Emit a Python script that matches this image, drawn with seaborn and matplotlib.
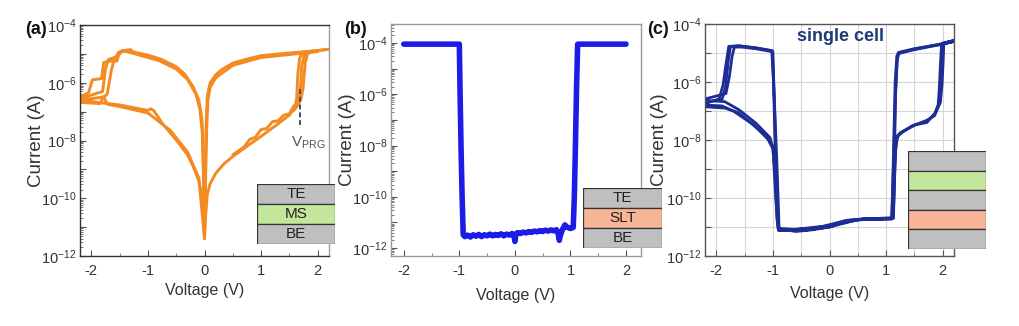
import numpy as np
import matplotlib
matplotlib.use('Agg')
import matplotlib.pyplot as plt
import seaborn as sns
from matplotlib.ticker import FixedLocator, MultipleLocator, FuncFormatter, LogLocator, NullLocator, NullFormatter

# ---------------- data ----------------
# panel (a): MS memory device, orange
a_hrs_pos_V = [0.0, 0.02, 0.05, 0.1, 0.2, 0.35, 0.5, 0.75, 1.0, 1.25, 1.5, 1.6]
a_hrs_pos_I = [4e-12, 2.5e-11, 1.4e-10, 3.2e-10, 7.4e-10, 1.6e-9, 2.8e-9, 6.3e-9, 1.4e-8, 3.2e-8, 7.6e-8, 1.4e-7]
a_hrs_pos2_V = [0.5, 0.7, 0.8, 0.9, 1.0, 1.1, 1.2, 1.3, 1.4, 1.5, 1.58]
a_hrs_pos2_I = [3.2e-9, 6e-9, 1.1e-8, 1.3e-8, 2.4e-8, 2.6e-8, 4.5e-8, 4.8e-8, 7.5e-8, 8.5e-8, 1.6e-7]
a_set1_V = [1.6, 1.63, 1.65, 1.68, 1.72, 1.85, 2.0, 2.2]
a_set1_I = [1.4e-7, 3e-7, 2e-6, 7e-6, 1.05e-5, 1.2e-5, 1.3e-5, 1.45e-5]
a_set2_V = [1.55, 1.62, 1.66, 1.7, 1.72, 1.76, 1.85]
a_set2_I = [1e-7, 1.5e-7, 2.2e-7, 8e-7, 4e-6, 9e-6, 1.15e-5]
a_set3_V = [1.58, 1.66, 1.7, 1.74, 1.78, 1.82, 1.9]
a_set3_I = [1.1e-7, 1.8e-7, 2.5e-7, 6e-7, 5e-6, 1e-5, 1.2e-5]
a_lrs_pos_V = [2.2, 2.0, 1.5, 1.0, 0.75, 0.5, 0.3, 0.2, 0.1, 0.05, 0.03, 0.015, 0.0]
a_lrs_pos_I = [1.45e-5, 1.3e-5, 1.07e-5, 8.7e-6, 6.6e-6, 4.8e-6, 2.8e-6, 1.9e-6, 1e-6, 3.5e-7, 5e-8, 1e-9, 5e-12]
a_lrs_pos2_V = [2.0, 1.5, 1.0, 0.5, 0.2, 0.1, 0.06, 0.04, 0.02, 0.0]
a_lrs_pos2_I = [1.2e-5, 9.5e-6, 7.5e-6, 4e-6, 1.5e-6, 7e-7, 2.5e-7, 3e-8, 5e-10, 5e-12]
a_lrs_neg_V = [0.0, -0.015, -0.03, -0.05, -0.1, -0.2, -0.35, -0.5, -0.75, -1.0, -1.2, -1.36]
a_lrs_neg_I = [5e-12, 3e-10, 1.6e-8, 6.3e-8, 2.5e-7, 7.2e-7, 2e-6, 3.6e-6, 6.3e-6, 9.1e-6, 1.1e-5, 1.35e-5]
a_lrs_neg2_V = [0.0, -0.02, -0.04, -0.08, -0.15, -0.3, -0.5, -0.8, -1.1, -1.3, -1.45]
a_lrs_neg2_I = [5e-12, 1e-9, 2e-8, 1.2e-7, 4e-7, 1.3e-6, 3e-6, 5.8e-6, 8.5e-6, 1.1e-5, 1.3e-5]
a_reset1_V = [-1.36, -1.5, -1.55, -1.7, -1.78, -1.82, -1.98, -2.05, -2.2]
a_reset1_I = [1.35e-5, 1.12e-5, 5.6e-6, 5.6e-6, 5e-6, 1.4e-6, 1.26e-6, 4.5e-7, 3.2e-7]
a_reset2_V = [-1.45, -1.52, -1.6, -1.65, -1.72, -1.78, -2.2]
a_reset2_I = [1.3e-5, 1.12e-5, 6e-6, 2.5e-6, 4e-7, 3.2e-7, 2.5e-7]
a_reset3_V = [-1.3, -1.45, -1.55, -1.7, -1.75, -1.8, -2.2]
a_reset3_I = [1.4e-5, 1.26e-5, 8e-6, 6.3e-6, 3e-6, 5e-7, 2.8e-7]
a_hrs_neg_V = [-2.2, -1.5, -1.0, -0.95, -0.9, -0.85, -0.75, -0.5, -0.3, -0.2, -0.1, -0.05, -0.02, 0.0]
a_hrs_neg_I = [2.5e-7, 1.7e-7, 1.1e-7, 1.25e-7, 1.1e-7, 8e-8, 4e-8, 1.05e-8, 3.2e-9, 1.26e-9, 4e-10, 1.26e-10, 3.2e-11, 4e-12]
a_hrs_neg2_V = [-2.2, -1.85, -1.78, -1.72, -1.5, -1.0, -0.6, -0.3, -0.1, 0.0]
a_hrs_neg2_I = [2.1e-7, 1.9e-7, 3.3e-7, 1.8e-7, 1.5e-7, 9e-8, 2.2e-8, 4e-9, 5e-10, 4e-12]
a_vprg_V = [1.68, 1.68]
a_vprg_I = [6e-7, 2.7e-8]

# panel (b): SLT selector, blue
b_on_neg_V = [-2.0, -1.0]
b_on_neg_I = [9e-5, 9e-5]
b_drop_V = [-1.0, -0.99, -0.97, -0.95, -0.93]
b_drop_I = [9e-5, 3e-6, 1e-8, 1e-10, 3.3e-12]
b_floor_V = [-0.93, -0.9, -0.85, -0.8, -0.75, -0.7, -0.65, -0.6, -0.55, -0.5,
             -0.45, -0.4, -0.35, -0.3, -0.25, -0.2, -0.15, -0.1, -0.05, -0.01,
             0.0, 0.02, 0.05, 0.1, 0.15, 0.2, 0.25, 0.3, 0.35, 0.4,
             0.45, 0.5, 0.55, 0.6, 0.65, 0.7, 0.75, 0.78, 0.8, 0.82,
             0.86, 0.9, 0.94, 1.0, 1.05]
b_floor_I = [3.3e-12, 2.8e-12, 3.2e-12, 2.7e-12, 3.3e-12, 2.9e-12, 3.4e-12, 2.8e-12, 3.3e-12, 3.0e-12,
             3.5e-12, 3.0e-12, 3.4e-12, 3.1e-12, 3.6e-12, 3.0e-12, 3.5e-12, 3.2e-12, 3.7e-12, 2.6e-12,
             1.8e-12, 3.6e-12, 4.0e-12, 3.7e-12, 4.2e-12, 3.9e-12, 4.4e-12, 4.1e-12, 4.6e-12, 4.3e-12,
             4.8e-12, 4.4e-12, 5.0e-12, 4.6e-12, 5.1e-12, 4.7e-12, 5.2e-12, 3.5e-12, 2.0e-12, 3.2e-12,
             5.5e-12, 8.0e-12, 6.5e-12, 5.8e-12, 6.4e-12]
b_rise_V = [1.05, 1.07, 1.09, 1.11, 1.13]
b_rise_I = [6.4e-12, 1e-10, 1e-8, 2e-6, 9e-5]
b_on_pos_V = [1.13, 2.0]
b_on_pos_I = [9e-5, 9e-5]

# panel (c): single cell (selector + memory), navy, three cycles
c_cyc1_V = [-2.2, -1.85, -1.62, -1.33, -1.09, -1.0, -0.95, -0.9, -0.88, -0.6, -0.3, 0.0, 0.3, 0.6, 0.9,
            1.1, 1.13, 1.16, 1.19, 1.22, 1.5, 1.8, 2.0, 2.2, 2.0, 1.99, 1.97, 1.95, 1.9, 1.86, 1.75, 1.5, 1.25,
            1.18, 1.15, 1.12, 0.6, 0.0, -0.6, -0.9, -0.93, -0.96, -0.99, -1.02, -1.3, -1.6, -1.75, -1.79,
            -1.84, -1.9, -2.2]
c_cyc1_I = [1.4e-7, 1.26e-7, 8.9e-8, 3.2e-8, 1.07e-8, 5e-9, 3.2e-10, 8.9e-12, 7.9e-12, 8.3e-12, 8.9e-12, 1.12e-11,
            1.66e-11, 1.9e-11, 1.9e-11, 1.9e-11, 3.2e-9, 1e-6, 7.9e-6, 1.05e-5, 1.41e-5, 1.78e-5, 2.1e-5, 2.7e-5,
            2.2e-5, 5e-6, 8e-7, 2e-7, 1.3e-7, 8e-8, 5e-8, 3.2e-8, 1.78e-8, 1.26e-8, 1e-9, 2e-11, 1.9e-11,
            1.12e-11, 8.3e-12, 8.9e-12, 1.6e-10, 6.3e-9, 1e-6, 1.2e-5, 1.5e-5, 1.78e-5, 1.66e-5, 5e-6,
            6.3e-7, 2.5e-7, 2e-7]
c_cyc2_V = [-2.2, -1.85, -1.6, -1.3, -1.05, -0.97, -0.93, -0.9, -0.6, -0.3, 0.0, 0.3, 0.6, 0.9, 1.12,
            1.15, 1.17, 1.2, 1.23, 1.5, 1.8, 2.0, 2.2, 1.98, 1.96, 1.94, 1.92, 1.86, 1.7, 1.45, 1.22, 1.17,
            1.14, 1.12, 0.5, 0.0, -0.5, -0.9, -0.94, -0.97, -1.0, -1.3, -1.55, -1.68, -1.72, -1.77, -1.83, -2.2]
c_cyc2_I = [2.3e-7, 2.1e-7, 1.1e-7, 3.8e-8, 1.2e-8, 3e-9, 2e-11, 7.5e-12, 7.8e-12, 8.5e-12, 1.2e-11, 1.7e-11,
            1.9e-11, 2e-11, 2.1e-11, 5e-9, 5e-7, 7e-6, 1e-5, 1.3e-5, 1.7e-5, 2e-5, 2.5e-5, 2e-5, 4e-6, 6e-7,
            1.6e-7, 7e-8, 4.5e-8, 3e-8, 1.5e-8, 8e-9, 1e-10, 2e-11, 1.8e-11, 1.1e-11, 8e-12, 8e-12, 1e-9, 1e-7,
            1.1e-5, 1.4e-5, 1.6e-5, 1.6e-5, 8e-6, 1.5e-6, 4e-7, 2.6e-7]
c_cyc3_V = [-2.2, -1.9, -1.7, -1.4, -1.1, -1.0, -0.95, -0.91, -0.6, -0.3, 0.0, 0.3, 0.6, 0.9, 1.1,
            1.13, 1.16, 1.19, 1.22, 1.5, 1.8, 2.0, 2.2, 2.02, 2.01, 1.99, 1.96, 1.88, 1.72, 1.5, 1.3, 1.2,
            1.16, 1.13, 0.5, 0.0, -0.5, -0.89, -0.92, -0.96, -1.01, -1.3, -1.6, -1.78, -1.83, -1.88, -1.95, -2.2]
c_cyc3_I = [1.6e-7, 1.5e-7, 1e-7, 4e-8, 1.3e-8, 6e-9, 1e-10, 9e-12, 7e-12, 8e-12, 1e-11, 1.6e-11,
            1.8e-11, 1.8e-11, 1.9e-11, 1e-9, 2e-7, 5e-6, 9.5e-6, 1.35e-5, 1.75e-5, 2.05e-5, 2.6e-5, 2.2e-5,
            6e-6, 9e-7, 2e-7, 9e-8, 4e-8, 3.3e-8, 2e-8, 1.3e-8, 3e-9, 2e-11, 1.8e-11, 1e-11, 7.5e-12,
            8e-12, 5e-10, 5e-8, 1.2e-5, 1.5e-5, 1.75e-5, 1.7e-5, 4e-6, 8e-7, 2.6e-7, 1.8e-7]

# stack diagrams (top -> bottom)
a_layers = ['TE', 'MS', 'BE']
a_layer_colors = ['#bfbfbf', '#c4e69c', '#bfbfbf']
b_layers = ['TE', 'SLT', 'BE']
b_layer_colors = ['#bfbfbf', '#f7b497', '#bfbfbf']
c_layers = ['', '', '', '', '']
c_layer_colors = ['#bfbfbf', '#c4e69c', '#bfbfbf', '#f7b497', '#bfbfbf']

x_ticks = [-2, -1, 0, 1, 2]
decades = [-12, -11, -10, -9, -8, -7, -6, -5, -4]

# ---------------- style ----------------
sns.set_theme(style='ticks')
FONT = ['Liberation Sans', 'DejaVu Sans']
plt.rcParams['font.family'] = FONT
plt.rcParams['mathtext.fontset'] = 'custom'
plt.rcParams['mathtext.rm'] = 'Liberation Sans'
plt.rcParams['mathtext.it'] = 'Liberation Sans:italic'
plt.rcParams['mathtext.bf'] = 'Liberation Sans:bold'
plt.rcParams['axes.unicode_minus'] = False

TICK_FS = 10.5
XLAB_FS = 11.5
YLAB_FS = 13.5

W, H = 1019, 326
fig = plt.figure(figsize=(W / 100, H / 100), dpi=100)


def px_rect(l, t, r, b):
    return [l / W, 1 - b / H, (r - l) / W, (b - t) / H]


def fmt(v, pos):
    e = int(round(np.log10(v)))
    return rf'$10^{{{e}}}$' if e % 2 == 0 else ''


def style(ax, xlim, ylim, spine_cols, minor_y=True, grid=False):
    ax.set_yscale('log')
    ax.set_xlim(*xlim)
    ax.set_ylim(*ylim)
    ax.xaxis.set_major_locator(FixedLocator(x_ticks))
    ax.xaxis.set_minor_locator(MultipleLocator(0.5))
    ax.yaxis.set_major_locator(FixedLocator([10.0 ** e for e in decades]))
    ax.yaxis.set_major_formatter(FuncFormatter(fmt))
    if minor_y:
        ax.yaxis.set_minor_locator(LogLocator(base=10, subs=np.arange(2, 10), numticks=30))
    else:
        ax.yaxis.set_minor_locator(NullLocator())
    ax.yaxis.set_minor_formatter(NullFormatter())
    ax.tick_params(axis='both', which='major', direction='in', length=4, width=0.8,
                   color='#555555', labelsize=TICK_FS, labelcolor='#333333')
    ax.tick_params(axis='both', which='minor', direction='in', length=2, width=0.6, color='#666666')
    ax.tick_params(axis='x', which='major', pad=6)
    ax.tick_params(axis='y', which='major', pad=2.5)
    for side, c in zip(['left', 'bottom', 'top', 'right'], spine_cols):
        ax.spines[side].set_visible(True)
        ax.spines[side].set_color(c)
        ax.spines[side].set_linewidth(1.0)
    if grid:
        ax.grid(True, which='major', axis='y', color='#d6d6d6', lw=0.8)
        ax.grid(True, which='both', axis='x', color='#d6d6d6', lw=0.8)
        ax.set_axisbelow(True)
    ax.set_xlabel('Voltage (V)', fontsize=XLAB_FS, color='#333333')
    ax.set_ylabel('Current (A)', fontsize=YLAB_FS, color='#333333')


def draw(ax, V, I, color, lw):
    sns.lineplot(x=np.asarray(V, float), y=np.asarray(I, float), ax=ax, sort=False,
                 estimator=None, errorbar=None, color=color, lw=lw, legend=False)


def stack(rect, names, colors):
    ax = fig.add_axes(rect)
    n = len(names)
    pos = [n - 1 - i + 0.5 for i in range(n)]
    ax.barh(pos, [1] * n, height=1, left=0, color=colors, edgecolor='#333333', lw=0.9)
    for p, name in zip(pos, names):
        ax.text(0.5, p, name, ha='center', va='center', fontsize=11, color='#222222')
    ax.set_xlim(0, 1)
    ax.set_ylim(0, n)
    ax.axis('off')
    return ax


# ---------------- panel (a) ----------------
axa = fig.add_axes(px_rect(80, 25, 329, 256))
axa.set_yscale('log')
ORANGE = '#f48a22'
for V, I in [(a_hrs_pos_V, a_hrs_pos_I), (a_hrs_pos2_V, a_hrs_pos2_I), (a_set1_V, a_set1_I),
             (a_set2_V, a_set2_I), (a_set3_V, a_set3_I), (a_lrs_pos_V, a_lrs_pos_I),
             (a_lrs_pos2_V, a_lrs_pos2_I), (a_lrs_neg_V, a_lrs_neg_I), (a_lrs_neg2_V, a_lrs_neg2_I),
             (a_reset1_V, a_reset1_I), (a_reset2_V, a_reset2_I), (a_reset3_V, a_reset3_I),
             (a_hrs_neg_V, a_hrs_neg_I), (a_hrs_neg2_V, a_hrs_neg2_I)]:
    draw(axa, V, I, ORANGE, 2.1)
axa.plot(a_vprg_V, a_vprg_I, ls=(0, (2.5, 1.5)), color='#3f4f66', lw=1.4)
axa.text(1.52, 8e-9, r'V$_{\mathrm{PRG}}$', fontsize=11, color='#555555', ha='left', va='center')
style(axa, (-2.2, 2.2), (1e-12, 1e-4), ['#333333', '#333333', '#333333', '#9a9a9a'])
axa.yaxis.set_label_coords(-0.14, 0.5)
axa.xaxis.set_label_coords(0.5, -0.117)

# ---------------- panel (b) ----------------
axb = fig.add_axes(px_rect(391, 24, 641, 256))
axb.set_yscale('log')
BLUE = '#1c1ce6'
b_V = b_on_neg_V + b_drop_V + b_floor_V + b_rise_V + b_on_pos_V
b_I = b_on_neg_I + b_drop_I + b_floor_I + b_rise_I + b_on_pos_I
draw(axb, b_V, b_I, BLUE, 4.0)
style(axb, (-2.23, 2.27), (4.9e-13, 5.5e-4), ['#999999'] * 4)
axb.yaxis.set_label_coords(-0.14, 0.5)
axb.xaxis.set_label_coords(0.5, -0.138)

# ---------------- panel (c) ----------------
axc = fig.add_axes(px_rect(705, 24, 954, 256))
axc.set_yscale('log')
NAVY = '#1e2d96'
for V, I in [(c_cyc1_V, c_cyc1_I), (c_cyc2_V, c_cyc2_I), (c_cyc3_V, c_cyc3_I)]:
    draw(axc, V, I, NAVY, 2.0)
style(axc, (-2.2, 2.2), (1e-12, 1e-4), ['#555555'] * 4, minor_y=False, grid=True)
axc.yaxis.set_label_coords(-0.149, 0.5)
axc.xaxis.set_label_coords(0.5, -0.129)
axc.text(0.546, 0.948, 'single cell', transform=axc.transAxes, ha='center', va='center',
         fontsize=13, fontweight='bold', color='#1f3a78')

# ---------------- stack insets ----------------
stack(px_rect(257, 184, 335, 244), a_layers, a_layer_colors)
stack(px_rect(583, 188, 662, 248), b_layers, b_layer_colors)
stack(px_rect(908, 151, 986, 249), c_layers, c_layer_colors)

# ---------------- panel letters ----------------
for x, lab in [(25, '(a)'), (344, '(b)'), (647, '(c)')]:
    fig.text(x / W, 1 - 29 / H, lab, ha='left', va='center', fontsize=13, fontweight='bold', color='#111111')

fig.savefig('out.png', dpi=100)
